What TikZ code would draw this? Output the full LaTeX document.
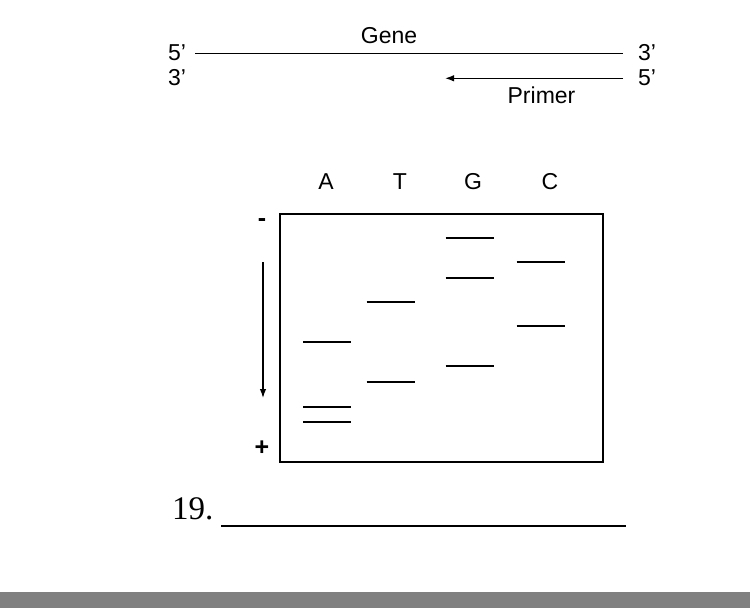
\documentclass[tikz,border=0pt]{standalone}
\usepackage{fontspec}
\setmainfont{Liberation Serif}
\setsansfont{Liberation Sans}
\usepackage{xcolor}
\usetikzlibrary{arrows.meta}

\definecolor{barGray}{HTML}{808080}

\begin{document}
\begin{tikzpicture}[x=1pt,y=-1pt,
        lbl/.style={font=\sffamily\fontsize{23}{23}\selectfont, inner sep=0pt, anchor=base},
        pole/.style={font=\sffamily\bfseries\fontsize{25}{25}\selectfont, inner sep=0pt},
        band/.style={line width=1.5pt}]
        \useasboundingbox (0,0) rectangle (750,608);

        %=== Gene und Primer ===
        \node[lbl, anchor=base west] (top5) at (168,60) {5’};
        \node[lbl, anchor=base west] (bot3) at (168,85) {3’};
        \node[lbl, anchor=base west] (top3) at (638,60) {3’};
        \node[lbl, anchor=base west] (bot5) at (638,85) {5’};
        \node[lbl] (gene) at (389,43) {Gene};
        \node[lbl] (primer) at (541.5,103) {Primer};

        \coordinate (geneL) at (195,53.3);
        \coordinate (geneR) at (623,53.3);
        \coordinate (primR) at (623,78.3);
        \coordinate (primL) at (445,78.3);
        \draw[line width=1.3pt] (geneL) -- (geneR);
        \draw[line width=1.3pt, -{Latex[length=9pt,width=6.5pt]}] (primR) -- (primL);

        %=== Gel ===
        \node[draw, line width=1.3pt, minimum width=323pt, minimum height=248pt, inner sep=0pt] (gel) at (441.5,338) {};

        \foreach \x/\name in {326/A, 400/T, 473/G, 550/C}
            \node[lbl] (lane\name) at (\x,189) {\name};

        \node[pole] (minus) at (262,223) {-};
        \node[pole] (plus) at (262,448) {+};

        \coordinate (runTop) at (263,262);
        \coordinate (runBot) at (263,398);
        \draw[line width=1.3pt, -{Latex[length=9pt,width=6.5pt]}] (runTop) -- (runBot);

        % Banden
        \foreach \x/\y in {327/342, 327/407, 327/422,
                           390.5/302, 390.5/382,
                           469.5/238, 469.5/278, 469.5/366,
                           540.5/262, 540.5/326}
            \draw[band] (\x-24,\y) -- (\x+24,\y);

        %=== Frage ===
        \node[font=\fontsize{33}{33}\selectfont, inner sep=0pt, anchor=base west] (q19) at (172,519) {19.};
        \coordinate (ansL) at (221,526);
        \coordinate (ansR) at (626,526);
        \draw[line width=1.3pt] (ansL) -- (ansR);

        \fill[barGray] (0,592) rectangle (750,608);
    \end{tikzpicture}
\end{document}
